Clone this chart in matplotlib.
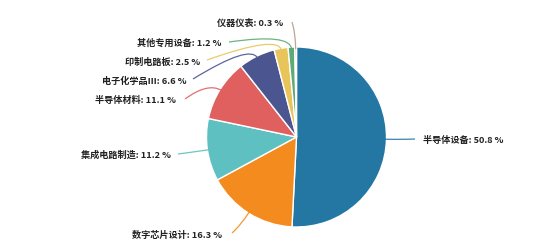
import matplotlib

matplotlib.use("Agg")
import matplotlib.pyplot as plt
import numpy as np
from matplotlib.path import Path
from matplotlib.patches import PathPatch

plt.rcParams["font.family"] = ["Noto Sans CJK SC", "DejaVu Sans"]

names = ["半导体设备", "数字芯片设计", "集成电路制造", "半导体材料",
         "电子化学品Ⅲ", "印制电路板", "其他专用设备", "仪器仪表"]
shares = [50.8, 16.3, 11.2, 11.1, 6.6, 2.5, 1.2, 0.3]
colors = ["#2477a3", "#f48b1e", "#5ec0c0", "#e06060",
          "#4b5590", "#e8c55a", "#5daa76", "#b59c88"]

# label anchor (pixel coords, y from top) and where its leader line ends
label_xy = [(423, 141), (222, 235), (171, 155), (176, 100),
            (187, 81), (200, 62), (221, 43), (283, 23)]
line_end = [(415, 139), (232, 233), (178, 154), (185, 99),
            (193, 79), (207, 60), (229, 42), (292, 22)]

W, H = 550, 249
fig = plt.figure(figsize=(W / 100, H / 100), dpi=100)
ax = fig.add_axes([0, 0, 1, 1])
ax.axis("off")

cx, cy, r = 296.5, H - 137, 90
wedges, _ = ax.pie(shares, colors=colors, startangle=90, counterclock=False,
                   center=(cx, cy), radius=r,
                   wedgeprops=dict(edgecolor="white", linewidth=1.0))
ax.set_xlim(0, W)
ax.set_ylim(0, H)
ax.set_aspect("equal")

for w, name, val, col, (lx, ly), (ex, ey) in zip(
        wedges, names, shares, colors, label_xy, line_end):
    mid = np.deg2rad((w.theta1 + w.theta2) / 2)
    sx, sy = cx + (r - 2) * np.cos(mid), cy + (r - 2) * np.sin(mid)
    kx, ky = cx + (r + 14) * np.cos(mid), cy + (r + 14) * np.sin(mid)
    p = Path([(sx, sy), (kx, ky), (ex, H - ey)],
             [Path.MOVETO, Path.CURVE3, Path.CURVE3])
    ax.add_patch(PathPatch(p, facecolor="none", edgecolor=col, lw=0.9, alpha=0.9))
    ha = "left" if lx > cx else "right"
    ax.text(lx, H - ly, f"{name}: {val} %", ha=ha, va="center",
            fontsize=6.6, fontweight="bold", color="#222222")

fig.savefig("out.png", dpi=100)
